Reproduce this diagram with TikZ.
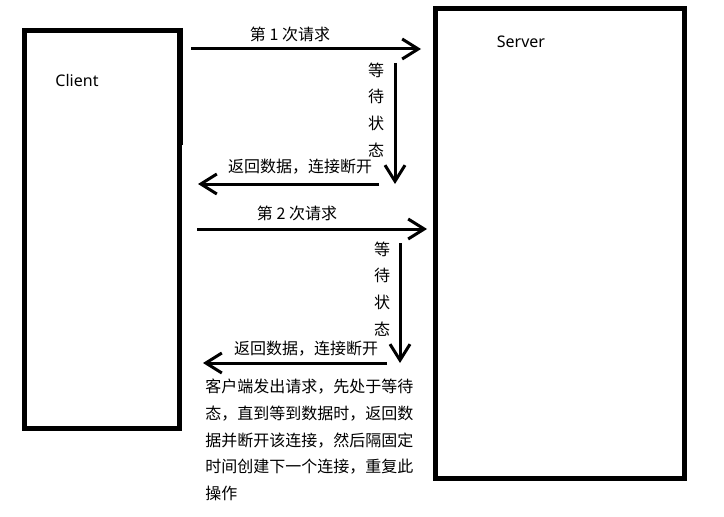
\documentclass[tikz,border=0pt]{standalone}
\usepackage{fontspec}
\newfontfamily\cjk{Noto Sans CJK SC}
\newfontfamily\latin{Noto Sans}
\usetikzlibrary{arrows.meta}

\begin{document}
\begin{tikzpicture}[x=0.75pt,y=-0.75pt]
\useasboundingbox (0,0) rectangle (724,517);
\tikzset{
  flow/.style={line width=2.25pt,-{Straight Barb[length=12pt,width=15pt,line width=2.25pt]}},
  msg/.style={inner sep=0pt,font=\cjk\fontsize{12pt}{14pt}\selectfont},
  waitlbl/.style={inner sep=0pt,align=center,font=\cjk\fontsize{12pt}{20pt}\selectfont}
}
% boxes
\draw[line width=3.75pt] (24.5,30.5) rectangle (179,428);
\draw[line width=1.5pt] (182,28) -- (182,145);
\draw[line width=3.75pt] (435.5,8.5) rectangle (684.5,478.5);
\node[inner sep=0pt] (client) at (77,81) {\latin\fontsize{12pt}{14pt}\selectfont Client};
\node[inner sep=0pt] (server) at (521,42) {\latin\fontsize{12pt}{14pt}\selectfont Server};

% round 1
\coordinate (req1s) at (191,49);
\coordinate (req1e) at (421,49);
\coordinate (wait1s) at (395,63);
\coordinate (wait1e) at (395,184);
\coordinate (ret1s) at (379,184);
\coordinate (ret1e) at (198,184);
\draw[flow] (req1s) -- (req1e);
\draw[flow] (wait1s) -- (wait1e);
\draw[flow] (ret1s) -- (ret1e);
\node[msg] (req1) at (290,34) {第 1 次请求};
\node[waitlbl] (wait1) at (376,110) {等\\待\\状\\态};
\node[msg] (ret1) at (300,167) {返回数据，连接断开};

% round 2
\coordinate (req2s) at (197,229);
\coordinate (req2e) at (427,229);
\coordinate (wait2s) at (400,243);
\coordinate (wait2e) at (400,363);
\coordinate (ret2s) at (387,363);
\coordinate (ret2e) at (203,363);
\draw[flow] (req2s) -- (req2e);
\draw[flow] (wait2s) -- (wait2e);
\draw[flow] (ret2s) -- (ret2e);
\node[msg] (req2) at (297,213) {第 2 次请求};
\node[waitlbl] (wait2) at (382,289) {等\\待\\状\\态};
\node[msg] (ret2) at (306,349) {返回数据，连接断开};

% note
\node[inner sep=0pt,anchor=west,align=left,font=\cjk\fontsize{12pt}{20pt}\selectfont] (note) at (205,440)
  {客户端发出请求，先处于等待\\态，直到等到数据时，返回数\\据并断开该连接，然后隔固定\\时间创建下一个连接，重复此\\操作};
\end{tikzpicture}
\end{document}
